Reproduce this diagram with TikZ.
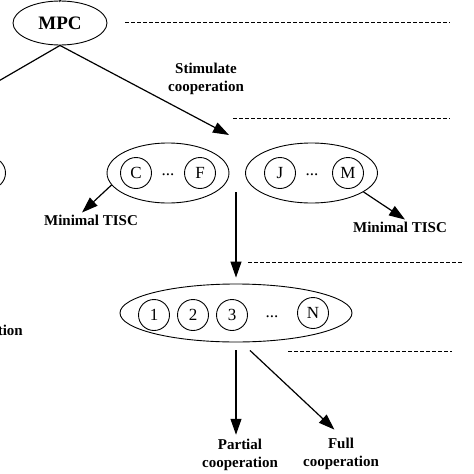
\documentclass[tikz,border=0pt]{standalone}
\usepackage{fontspec}
\setmainfont{Liberation Serif}
\usepackage{tikz}
\usetikzlibrary{shapes.geometric,arrows.meta,positioning}
\tikzset{
  grp/.style    = {ellipse, draw=black, line width=0.9pt, inner sep=0pt},
  agent/.style  = {circle, draw=black, line width=0.9pt, minimum size=31pt,
                   inner sep=0pt, font=\fontsize{17}{17}\selectfont},
  lbl/.style    = {align=center, font=\fontsize{15}{18.5}\selectfont\bfseries,
                   inner sep=2pt},
  arr/.style    = {-{Triangle[length=16pt,width=11pt]}, line width=1.2pt},
  lvl/.style    = {line width=0.8pt, dash pattern=on 3.5pt off 2.5pt},
}
\begin{document}
\begin{tikzpicture}[x=1pt, y=-1pt]
\useasboundingbox (0,0) rectangle (474,474);
\clip (0,0) rectangle (474,474);

%% Top level
\node[grp, minimum width=94pt, minimum height=44pt,
      font=\fontsize{19}{19}\selectfont\bfseries] (mpc) at (60,23) {MPC};
\coordinate (above) at (74,-40);
\draw[arr, shorten >=-2pt] (above) -- (mpc.north);
\coordinate (leftgo) at (-110,144);
\draw[line width=1.2pt] (mpc.south) -- (leftgo);
\coordinate (stim) at (229,135);
\draw[arr] (mpc.south) -- (stim);
\node[lbl] (stimtxt) at (206,79) {Stimulate\\cooperation};

%% Second level
\node[agent] (lcut) at (-10,173) {};
\node[grp, minimum width=122pt, minimum height=60pt] (grpa) at (168,173) {};
\node[agent] (c) at (136,173) {C};
\node[agent] (f) at (200,173) {F};
\node[font=\fontsize{17}{17}\selectfont] (dotsa) at (168,175) {...};

\node[grp, minimum width=132pt, minimum height=60pt] (grpb) at (311.5,173) {};
\node[agent] (j) at (280,173) {J};
\node[agent] (m) at (348,173) {M};
\node[font=\fontsize{17}{17}\selectfont] (dotsb) at (312,175) {...};

\node[lbl] (tisca) at (91,220) {Minimal TISC};
\node[lbl] (tiscb) at (400,227) {Minimal TISC};
\draw[arr] (grpa.192) -- ([xshift=-9pt]tisca.north);
\draw[arr] (grpb.-20) -- ([xshift=5pt]tiscb.north);

%% Third level
\coordinate (vtop) at (236,192);
\node[grp, minimum width=232pt, minimum height=58pt] (all) at (236,313) {};
\node[agent] (n1) at (154,315) {1};
\node[agent] (n2) at (193,315) {2};
\node[agent] (n3) at (232,315) {3};
\node[font=\fontsize{17}{17}\selectfont] (dotsc) at (272,317) {...};
\node[agent] (nN) at (313,313) {N};
\draw[arr, shorten >=6pt] (vtop) -- (all.north);

%% Outcomes
\node[lbl] (partial) at (240,455) {Partial\\cooperation};
\node[lbl] (full) at (341,454) {Full\\cooperation};
\node[lbl, anchor=east] (lcoop) at (25,332) {cooperation};
\draw[arr, shorten <=8pt, shorten >=2pt] (all.south) -- (partial.north -| all.south);
\draw[arr, shorten >=9pt] ([xshift=14pt,yshift=-8pt]all.south) -- (full.north);

%% Level separators
\foreach \y/\xa/\xb in {22.7/125/450, 118/233/450, 262/248/462, 351/288/452}
  \draw[lvl] (\xa,\y) -- (\xb,\y);

\end{tikzpicture}
\end{document}
